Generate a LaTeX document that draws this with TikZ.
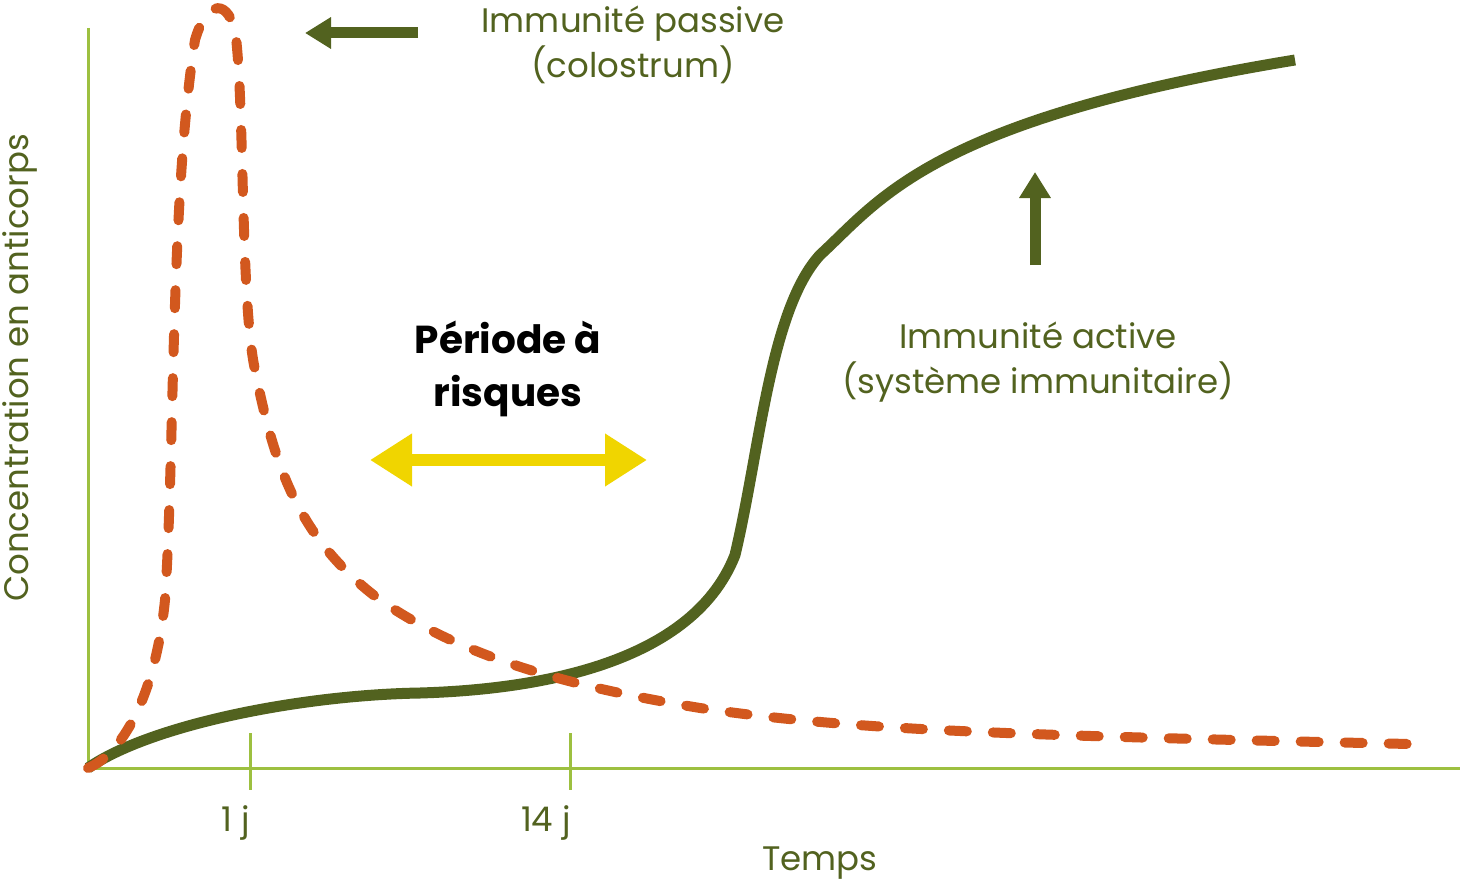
\documentclass[tikz,border=0pt]{standalone}
\usepackage{fontspec}
\setmainfont{Poppins}
\usetikzlibrary{arrows.meta}
\definecolor{axisg}{HTML}{9DC040}
\definecolor{darkg}{HTML}{52621F}
\definecolor{orng}{HTML}{D2581E}
\definecolor{yel}{HTML}{F0D500}
\begin{document}
\begin{tikzpicture}[x=1pt,y=-1pt,
  axis/.style={axisg,line width=3pt},
  lbl/.style={darkg,font=\fontsize{34}{45}\selectfont,align=center}]
\useasboundingbox (0,0) rectangle (1461,888);
\coordinate (O) at (88,768);
\coordinate (Ytop) at (88,28);
\coordinate (Xend) at (1460,768);
\draw[axis] (Ytop) -- (O) -- (Xend);
\coordinate (t1a) at (250,733); \coordinate (t1b) at (250,790);
\coordinate (t2a) at (570,733); \coordinate (t2b) at (570,790);
\draw[axis] (t1a) -- (t1b);
\draw[axis] (t2a) -- (t2b);
\node[lbl] (l1) at (236,823) {1 j};
\node[lbl] (l14) at (546,823) {14 j};
\node[lbl] (temps) at (820,863) {Temps};
\node[lbl,rotate=90] (ylab) at (20,368) {Concentration en anticorps};
% active immunity curve
\draw[darkg,line width=11pt] (O) .. controls (150,725) and (300,695) .. (420,693)
  .. controls (520,690) and (690,670) .. (735,555)
  .. controls (760,450) and (770,310) .. (820,255)
  .. controls (880,200) and (930,120) .. (1295,60);
% passive curve
\draw[orng,line width=10pt,line cap=round,dash pattern=on 18pt off 26pt] (O)
  .. controls (120,755) and (155,700) .. (165,600)
  .. controls (175,450) and (170,200) .. (195,40)
  .. controls (205,5) and (225,-5) .. (235,30)
  .. controls (245,100) and (240,300) .. (255,370)
  .. controls (275,470) and (300,540) .. (380,600)
  .. controls (460,655) and (560,685) .. (700,708)
  .. controls (850,730) and (1000,735) .. (1410,744);
% arrows
\coordinate (pa1) at (418,33); \coordinate (pa2) at (305,33);
\draw[darkg,line width=11pt,-{Triangle[length=26pt,width=30pt]}] (pa1) -- (pa2);
\coordinate (aa1) at (1035,265); \coordinate (aa2) at (1035,172);
\draw[darkg,line width=11pt,-{Triangle[length=26pt,width=30pt]}] (aa1) -- (aa2);
\coordinate (ya) at (370,460); \coordinate (yb) at (647,460);
\draw[yel,line width=12pt,{Triangle[length=42pt,width=50pt]}-{Triangle[length=42pt,width=50pt]}] (ya) -- (yb);
\node[lbl] (passive) at (633,45) {Immunité passive\\(colostrum)};
\node[lbl] (active) at (1038,362) {Immunité active\\(système immunitaire)};
\node[font=\fontsize{39}{53}\selectfont\bfseries,align=center] (risk) at (508,369) {Période à\\risques};
\end{tikzpicture}
\end{document}
